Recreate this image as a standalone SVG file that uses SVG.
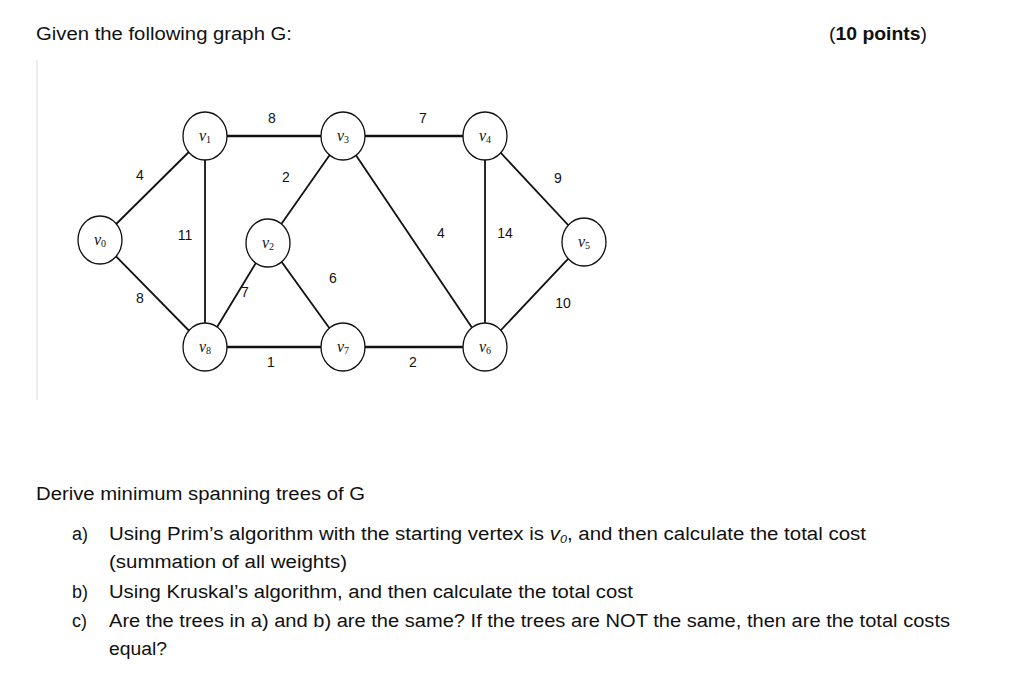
<svg xmlns="http://www.w3.org/2000/svg" width="1015" height="679" viewBox="0 0 1015 679">
<style>
.t{font-family:"Liberation Sans",Arial,sans-serif;font-size:18px;fill:#111}
.w{font-family:"Liberation Sans",Arial,sans-serif;font-size:14px;fill:#111;text-anchor:middle}
.v{font-family:"Liberation Serif","Times New Roman",serif;font-style:italic;font-size:16px;fill:#111;text-anchor:middle}
.v tspan{font-size:10px;font-style:normal}
.n{fill:#fff;stroke:#111;stroke-width:1.3}
.e{stroke:#111;stroke-width:1.8}
.b{stroke:#111;stroke-width:2.6}
</style>
<rect width="1015" height="679" fill="#fff"/>
<text class="t" x="36" y="40" textLength="256" lengthAdjust="spacingAndGlyphs">Given the following graph G:</text>
<text class="t" x="829" y="40" textLength="98" lengthAdjust="spacingAndGlyphs">(<tspan font-weight="bold">10 points</tspan>)</text>
<line x1="37" y1="60" x2="37" y2="400" stroke="#ddd" stroke-width="1"/>
<g id="connectors">
<line class="b" x1="205" y1="136" x2="343" y2="136"/>
<line class="b" x1="343" y1="136" x2="485" y2="136"/>
<line class="e" x1="100" y1="240" x2="205" y2="136"/>
<line class="e" x1="100" y1="240" x2="205" y2="347"/>
<line class="e" x1="205" y1="136" x2="205" y2="347"/>
<line class="e" x1="343" y1="136" x2="268" y2="243"/>
<line class="e" x1="268" y1="243" x2="205" y2="347"/>
<line class="e" x1="268" y1="243" x2="343" y2="347"/>
<line class="e" x1="343" y1="136" x2="485" y2="347"/>
<line class="e" x1="485" y1="136" x2="485" y2="347"/>
<line class="e" x1="485" y1="136" x2="584" y2="242"/>
<line class="e" x1="584" y1="242" x2="485" y2="347"/>
<line class="b" x1="205" y1="347" x2="343" y2="347"/>
<line class="b" x1="343" y1="347" x2="485" y2="347"/>
<text class="w" x="272" y="123">8</text>
<text class="w" x="423" y="123">7</text>
<text class="w" x="140" y="180">4</text>
<text class="w" x="286" y="182">2</text>
<text class="w" x="558" y="183">9</text>
<text class="w" x="185" y="240">11</text>
<text class="w" x="441" y="238">4</text>
<text class="w" x="505" y="238">14</text>
<text class="w" x="333" y="283">6</text>
<text class="w" x="245" y="297">7</text>
<text class="w" x="140" y="303">8</text>
<text class="w" x="563" y="308">10</text>
<text class="w" x="271" y="367">1</text>
<text class="w" x="413" y="367">2</text>
</g>
<g id="v0"><ellipse class="n" cx="100" cy="240" rx="22" ry="24"/><text class="v" x="100" y="245">v<tspan dy="2">0</tspan></text></g>
<g id="v1"><ellipse class="n" cx="205" cy="136" rx="22" ry="24"/><text class="v" x="205" y="141">v<tspan dy="2">1</tspan></text></g>
<g id="v3"><ellipse class="n" cx="343" cy="136" rx="22" ry="24"/><text class="v" x="343" y="141">v<tspan dy="2">3</tspan></text></g>
<g id="v4"><ellipse class="n" cx="485" cy="136" rx="22" ry="24"/><text class="v" x="485" y="141">v<tspan dy="2">4</tspan></text></g>
<g id="v2"><ellipse class="n" cx="268" cy="243" rx="22" ry="24"/><text class="v" x="268" y="248">v<tspan dy="2">2</tspan></text></g>
<g id="v5"><ellipse class="n" cx="584" cy="242" rx="22" ry="24"/><text class="v" x="584" y="247">v<tspan dy="2">5</tspan></text></g>
<g id="v8"><ellipse class="n" cx="205" cy="347" rx="22" ry="24"/><text class="v" x="205" y="352">v<tspan dy="2">8</tspan></text></g>
<g id="v7"><ellipse class="n" cx="343" cy="347" rx="22" ry="24"/><text class="v" x="343" y="352">v<tspan dy="2">7</tspan></text></g>
<g id="v6"><ellipse class="n" cx="485" cy="347" rx="22" ry="24"/><text class="v" x="485" y="352">v<tspan dy="2">6</tspan></text></g>
<text class="t" x="36" y="500" textLength="329" lengthAdjust="spacingAndGlyphs">Derive minimum spanning trees of G</text>
<text class="t" x="72" y="540">a)</text>
<text class="t" x="109" y="540" textLength="757" lengthAdjust="spacingAndGlyphs">Using Prim’s algorithm with the starting vertex is <tspan font-style="italic">v</tspan><tspan font-style="italic" font-size="11" dy="3">0</tspan><tspan dy="-3">, and then calculate the total cost</tspan></text>
<text class="t" x="109" y="568" textLength="238" lengthAdjust="spacingAndGlyphs">(summation of all weights)</text>
<text class="t" x="72" y="598">b)</text>
<text class="t" x="109" y="598" textLength="524" lengthAdjust="spacingAndGlyphs">Using Kruskal’s algorithm, and then calculate the total cost</text>
<text class="t" x="72" y="627">c)</text>
<text class="t" x="109" y="627" textLength="841" lengthAdjust="spacingAndGlyphs">Are the trees in a) and b) are the same? If the trees are NOT the same, then are the total costs</text>
<text class="t" x="109" y="655" textLength="58" lengthAdjust="spacingAndGlyphs">equal?</text>
</svg>
